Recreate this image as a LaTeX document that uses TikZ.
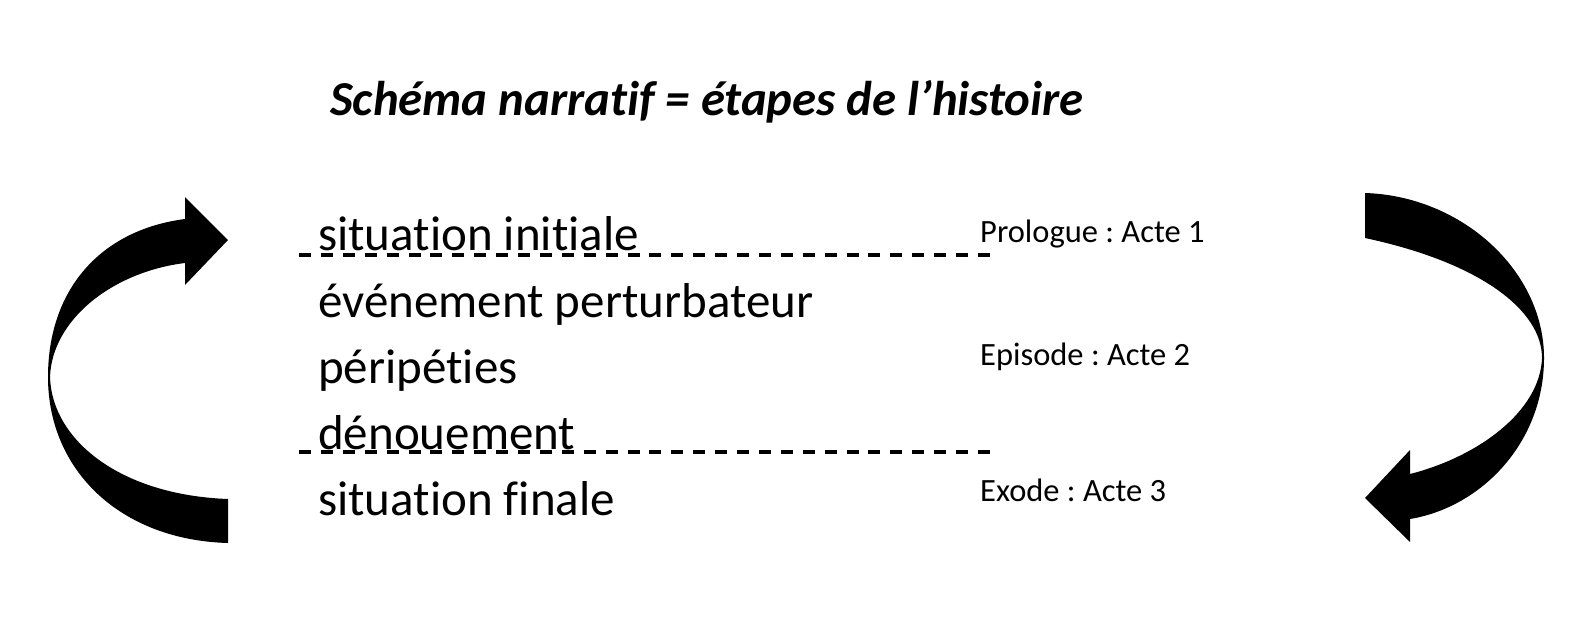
\documentclass[tikz,border=0pt]{standalone}
\usepackage{fontspec}
\setmainfont{Carlito}[Ligatures={NoCommon}]
\usepackage{tikz}
\usetikzlibrary{positioning}
\frenchspacing

\begin{document}
\begin{tikzpicture}[x=1pt, y=-1pt,
	etape/.style={anchor=base west, inner sep=0pt, font=\fontsize{49}{52}\selectfont},
	acte/.style={anchor=base west, inner sep=0pt, font=\fontsize{32.5}{34}\selectfont},
	sep/.style={line width=4.5pt, dash pattern=on 12pt off 9.9pt},
	fleche/.style={fill=black, draw=none}]
	\useasboundingbox[fill=white] (0,0) rectangle (1586,643);
	% titre
	\node[anchor=base west, inner sep=0pt, font=\fontsize{48.8}{52}\selectfont\bfseries\itshape] (titre) at (330,115) {Schéma narratif = étapes de l’histoire};
	% etapes
	\node[etape] (init) at (318,250) {situation initiale};
	\node[etape] (pert) at (318,317) {événement perturbateur};
	\node[etape] (peri) at (318,383) {péripéties};
	\node[etape] (denou) at (318,449) {dénouement};
	\node[etape] (fin) at (318,515) {situation finale};
	% actes
	\node[acte] (prol) at (980,242) {Prologue : Acte 1};
	\node[acte] (epis) at (980,365) {Episode : Acte 2};
	\node[acte] (exod) at (980,501) {Exode : Acte 3};
	% separations
	\coordinate (sepA) at (299,255);
	\coordinate (sepB) at (990,255);
	\coordinate (sepC) at (299,452);
	\coordinate (sepD) at (990,452);
	\draw[sep] (sepA) -- (sepB);
	\draw[sep] (sepC) -- (sepD);
	% fleches
	\fill[fleche] (228,543) .. controls (120,540) and (48,470) .. (48,377)
		.. controls (48,290) and (100,230) .. (185,219) -- (185,197) -- (228,240) -- (185,285) -- (185,263)
		.. controls (112,272) and (52,320) .. (50,377)
		.. controls (52,440) and (120,495) .. (228,499) -- cycle;
	\fill[fleche] (1365,193) .. controls (1462,196) and (1544,271) .. (1544,358)
		.. controls (1544,442) and (1482,507) .. (1410,519) -- (1410,542) -- (1365,498) -- (1410,450) -- (1410,474)
		.. controls (1477,457) and (1540,412) .. (1542,358)
		.. controls (1542,311) and (1482,263) .. (1365,238) -- cycle;
\end{tikzpicture}
\end{document}
